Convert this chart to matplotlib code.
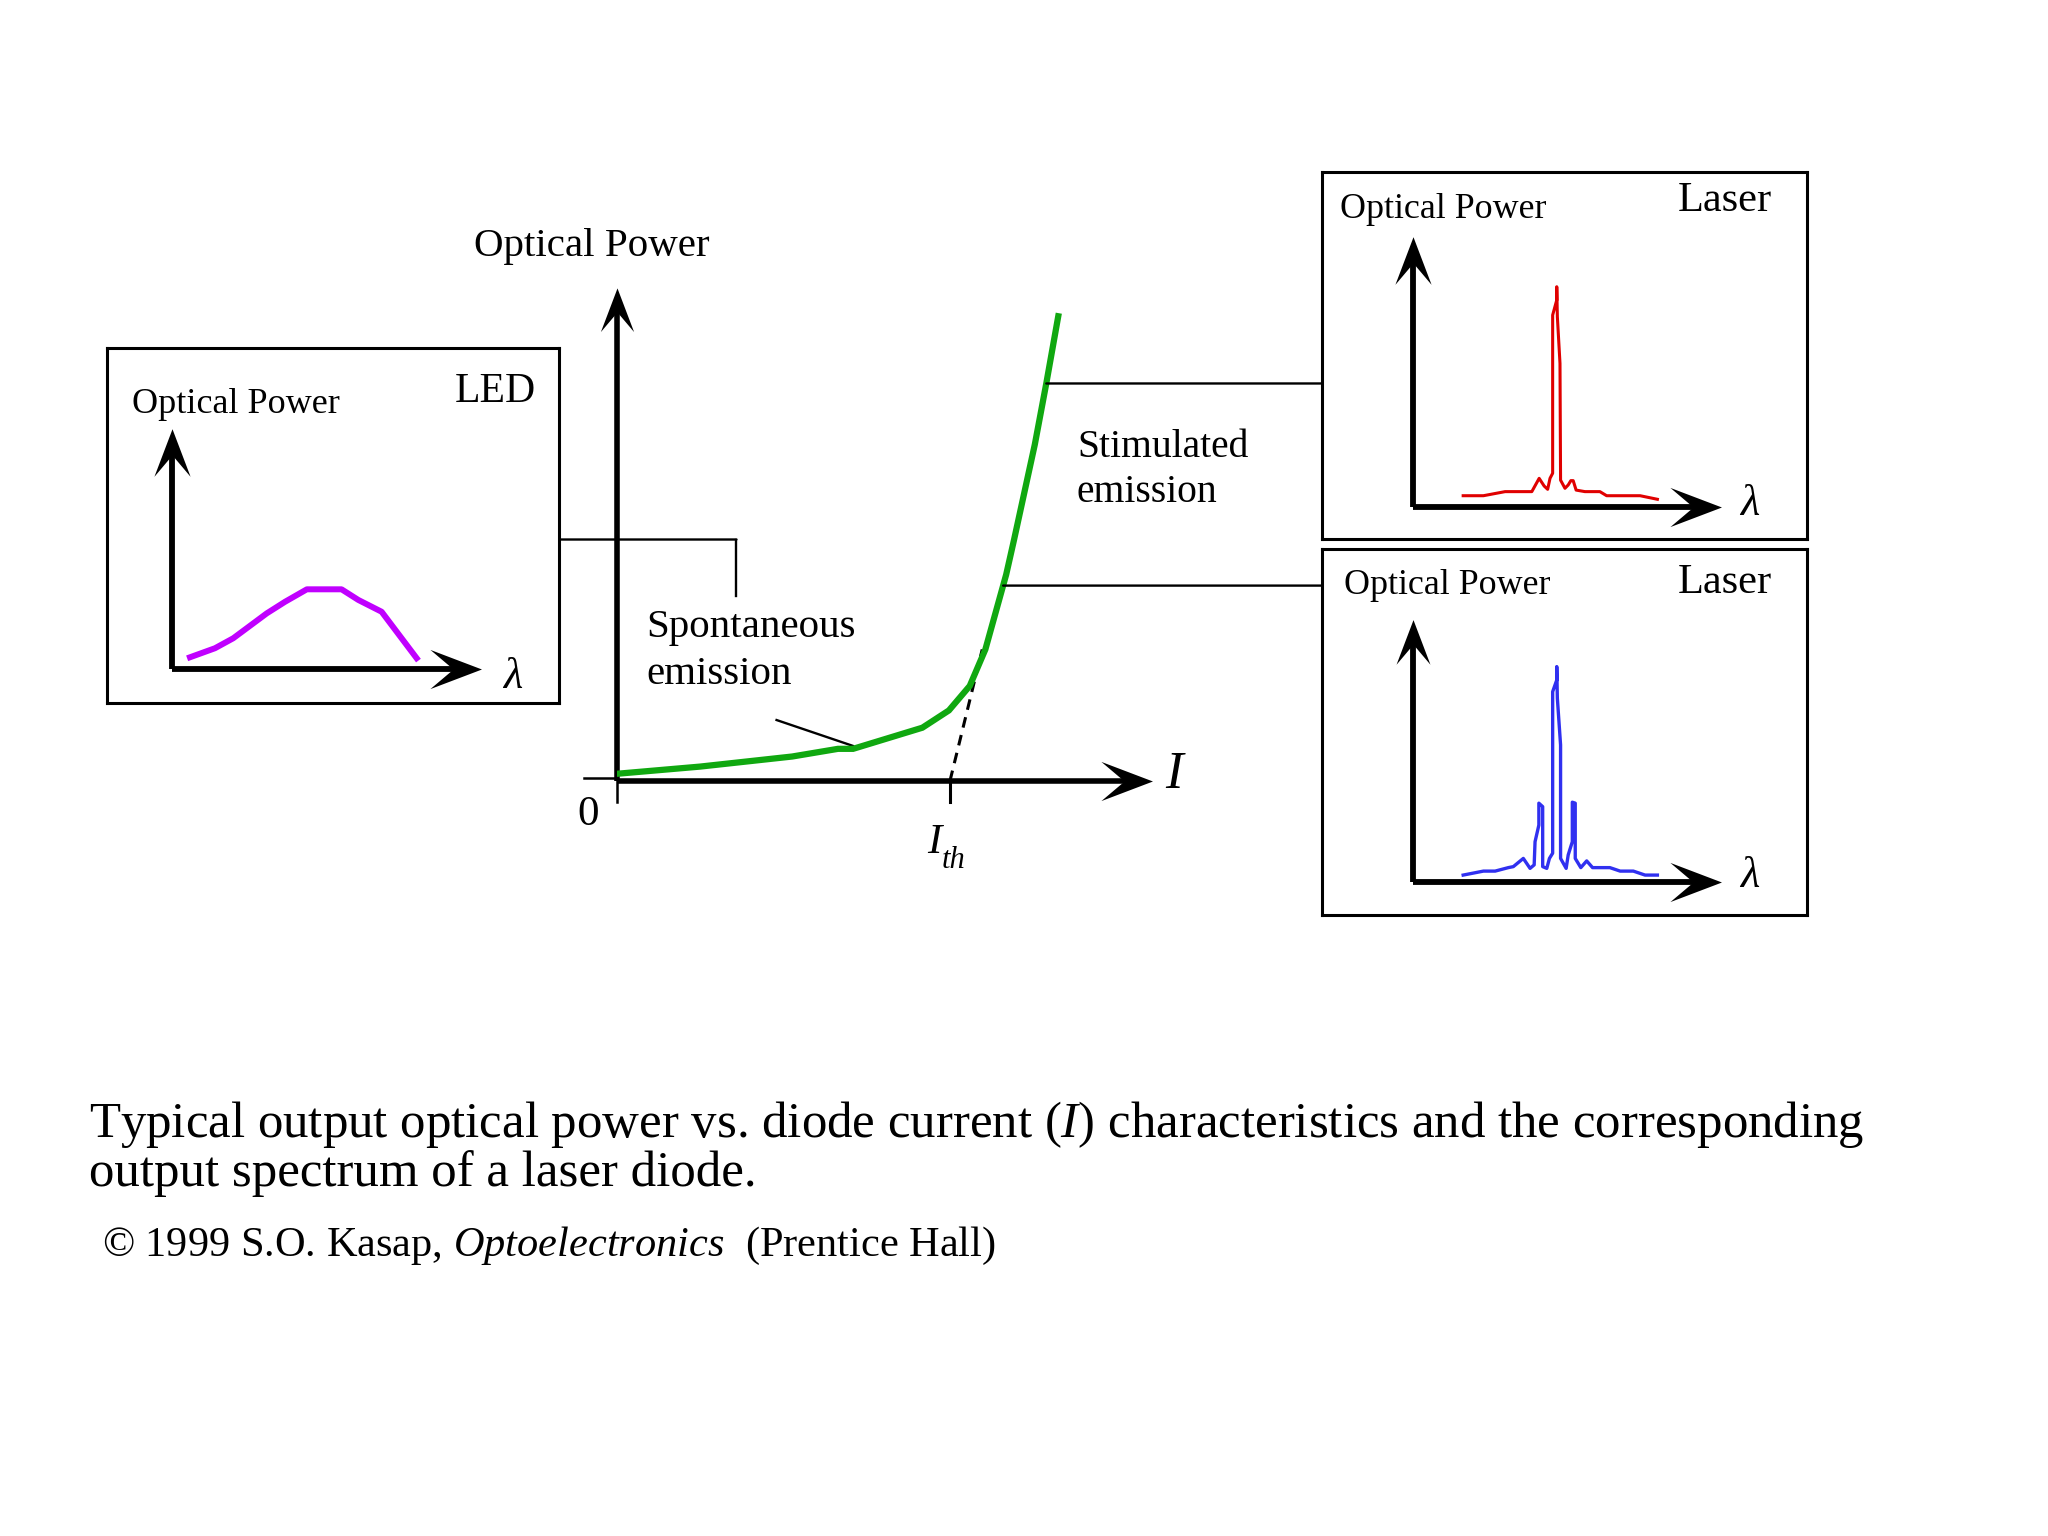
import numpy as np
import matplotlib
matplotlib.use('Agg')
import matplotlib.pyplot as plt
from matplotlib.path import Path
from matplotlib.patches import ConnectionPatch
from matplotlib.transforms import blended_transform_factory

# ---------------- data (arbitrary units) ----------------
# Main optical power vs. diode current characteristic
current_I = [0.00, 1.60, 3.37, 4.25, 4.54, 5.87, 6.38, 6.78, 7.08, 7.48, 7.63, 8.03, 8.25, 8.48]
power_P = [0.15, 0.30, 0.51, 0.67, 0.67, 1.11, 1.47, 1.98, 2.74, 4.30, 5.02, 7.01, 8.28, 9.68]
I_th = 6.40
extrap_I = [6.40, 7.02]
extrap_P = [0.00, 2.74]
spont_pointer_I = [3.07, 4.54]
spont_pointer_P = [1.27, 0.73]
stim_levels_P = [8.28, 4.07]
led_link_P = 5.03
led_link_I = 2.30
led_link_bottom_P = 3.86

# LED spectrum
led_wl = [0.62, 1.47, 2.09, 3.23, 3.85, 4.59, 5.77, 6.34, 7.13, 8.32]
led_pow = [0.53, 0.93, 1.37, 2.47, 2.98, 3.53, 3.53, 3.06, 2.54, 0.49]

# Laser spectrum (single mode, red)
red_wl = [1.72, 2.41, 3.15, 4.06, 4.31, 4.48, 4.60, 4.68, 4.77, 4.77, 4.91, 4.91, 4.93,
          5.02, 5.04, 5.19, 5.30, 5.39, 5.47, 5.57, 5.87, 6.38, 6.61, 7.75, 8.34]
red_pow = [0.43, 0.43, 0.59, 0.59, 1.11, 0.81, 0.68, 1.11, 1.31, 7.50, 8.09, 8.61, 7.44,
           5.61, 1.04, 0.72, 0.85, 1.02, 1.02, 0.65, 0.59, 0.59, 0.43, 0.43, 0.29]

# Laser spectrum (multimode, blue)
blue_wl = [1.72, 2.41, 2.81, 3.26, 3.43, 3.77, 4.00, 4.14, 4.17, 4.30, 4.30, 4.43, 4.43,
           4.57, 4.66, 4.77, 4.77, 4.91, 4.91, 4.93, 5.04, 5.04, 5.23, 5.30, 5.44, 5.44,
           5.54, 5.54, 5.73, 5.93, 6.13, 6.72, 7.07, 7.52, 7.92, 8.34]
blue_pow = [0.29, 0.45, 0.45, 0.59, 0.63, 0.96, 0.56, 0.70, 1.63, 2.30, 3.18, 3.04, 0.63,
            0.56, 0.96, 1.17, 7.66, 8.13, 8.67, 7.40, 5.52, 0.96, 0.56, 1.10, 1.63, 3.22,
            3.18, 0.96, 0.59, 0.86, 0.59, 0.59, 0.45, 0.45, 0.29, 0.29]

caption_1 = r"Typical output optical power vs. diode current ($\mathit{I}$) characteristics and the corresponding"
caption_2 = "output spectrum of a laser diode."
copyright_txt = r"© 1999 S.O. Kasap, $\mathit{Optoelectronics}$  (Prentice Hall)"

# ---------------- style ----------------
plt.rcParams['font.family'] = ['Liberation Serif', 'DejaVu Serif']
plt.rcParams['mathtext.fontset'] = 'custom'
plt.rcParams['mathtext.rm'] = 'Liberation Serif'
plt.rcParams['mathtext.it'] = 'Liberation Serif:italic'

W, H = 2048, 1536
fig = plt.figure(figsize=(W / 100, H / 100), dpi=100)
fig.patch.set_facecolor('white')


def rect(x0, y0, x1, y1):
    return [x0 / W, 1 - y1 / H, (x1 - x0) / W, (y1 - y0) / H]


def ftext(x, y, s, size, **kw):
    kw.setdefault('ha', 'left')
    kw.setdefault('va', 'baseline')
    return fig.text(x / W, 1 - y / H, s, fontsize=size, **kw)


def head(direction):
    v = np.array([[0.3, 0], [-0.7, 0.38], [-0.25, 0], [-0.7, -0.38], [0.3, 0]])
    if direction == 'up':
        v = v[:, ::-1].copy()
    codes = [Path.MOVETO, Path.LINETO, Path.LINETO, Path.LINETO, Path.CLOSEPOLY]
    return Path(v, codes)


def arrow_axes(ax, lw, Lx, Ly):
    ax.set_xlim(0, 10)
    ax.set_ylim(0, 10)
    ax.axis('off')
    ax.plot([0, 10], [0, 0], color='k', lw=lw, solid_capstyle='butt', clip_on=False, zorder=3)
    ax.plot([0, 0], [0, 10], color='k', lw=lw, solid_capstyle='butt', clip_on=False, zorder=3)
    ax.plot([10], [0], marker=head('right'), ms=Lx, color='k', mew=0, clip_on=False, zorder=3)
    ax.plot([0], [10], marker=head('up'), ms=Ly, color='k', mew=0, clip_on=False, zorder=3)


def box_axes(r):
    b = fig.add_axes(r)
    b.set_xticks([])
    b.set_yticks([])
    b.patch.set_alpha(0)
    for s in b.spines.values():
        s.set_linewidth(2.2)
    return b


# ---------------- main L-I plot ----------------
axm = fig.add_axes(rect(616.7, 300.9, 1137.4, 781))
arrow_axes(axm, 4.0, 52, 44)
axm.plot([-0.63, 0], [0.06, 0.06], color='k', lw=1.8, clip_on=False)
axm.plot([0, 0], [0.06, -0.44], color='k', lw=1.8, clip_on=False)
axm.plot([I_th, I_th], [0, -0.44], color='k', lw=2.2, clip_on=False)
axm.plot(extrap_I, extrap_P, color='k', lw=2.2, ls=(0, (3.5, 2.5)), zorder=2)
axm.plot(current_I, power_P, color='#10a810', lw=4.5, zorder=4, solid_joinstyle='miter')
axm.plot(spont_pointer_I, spont_pointer_P, color='k', lw=1.7, zorder=3)

# ---------------- LED panel ----------------
box_led = box_axes(rect(107.3, 348.3, 559.3, 703.3))
ax_led = fig.add_axes(rect(171.7, 442.7, 466.1, 669.3))
arrow_axes(ax_led, 4.2, 52, 48)
ax_led.plot(led_wl, led_pow, color='#c000ff', lw=4.3, zorder=4)

# ---------------- Laser panels ----------------
box_l1 = box_axes(rect(1321.7, 171.7, 1807.3, 539.3))
ax_l1 = fig.add_axes(rect(1412.7, 251.2, 1706.1, 506.7))
arrow_axes(ax_l1, 4.2, 52, 48)
ax_l1.plot(red_wl, red_pow, color='#e00000', lw=2.2, zorder=4)

box_l2 = box_axes(rect(1321.7, 549, 1807.3, 915))
ax_l2 = fig.add_axes(rect(1412.7, 633.5, 1706.1, 882.3))
arrow_axes(ax_l2, 4.2, 52, 45)
ax_l2.plot(blue_wl, blue_pow, color='#3030f0', lw=2.4, zorder=4)

# ---------------- connectors ----------------
for P, box in zip(stim_levels_P, [box_l1, box_l2]):
    I_at = np.interp(P, power_P, current_I)
    con = ConnectionPatch(xyA=(I_at, P), coordsA=axm.transData,
                          xyB=(0, P), coordsB=blended_transform_factory(box.transAxes, axm.transData),
                          color='k', lw=1.7)
    fig.add_artist(con)

con = ConnectionPatch(xyA=(1, led_link_P), coordsA=blended_transform_factory(box_led.transAxes, axm.transData),
                      xyB=(led_link_I, led_link_P), coordsB=axm.transData, color='k', lw=1.7)
fig.add_artist(con)
axm.plot([led_link_I, led_link_I], [led_link_P, led_link_bottom_P], color='k', lw=1.7,
         solid_capstyle='projecting')

# ---------------- texts ----------------
ftext(592, 256, "Optical Power", 29.5, ha='center')
ftext(646.5, 636.7, "Spontaneous", 29.5)
ftext(646.5, 683.7, "emission", 29.5)
ftext(1077, 456.7, "Stimulated", 28.5)
ftext(1077, 501.7, "emission", 28.5)
ftext(588.5, 825, "0", 31, ha='center')
ftext(1165, 788.3, "I", 38, style='italic')
ftext(926.7, 853.3, "I", 31, style='italic')
ftext(941.7, 868.3, "th", 22, style='italic')

ftext(132.5, 413.3, "Optical Power", 26)
ftext(455, 401.7, "LED", 30)
ftext(503, 688.3, "λ", 32, style='italic')

ftext(1340, 218.3, "Optical Power", 25.8)
ftext(1677.5, 210.7, "Laser", 30.5)
ftext(1740, 515, "λ", 32, style='italic')

ftext(1343.5, 594.3, "Optical Power", 25.8)
ftext(1677.5, 593.3, "Laser", 30.5)
ftext(1740, 886.7, "λ", 32, style='italic')

ftext(89, 1137, caption_1, 36.6)
ftext(89, 1186, caption_2, 36.6)
ftext(102, 1256, copyright_txt, 30.5)

fig.savefig('out.png', dpi=100, facecolor='white')
